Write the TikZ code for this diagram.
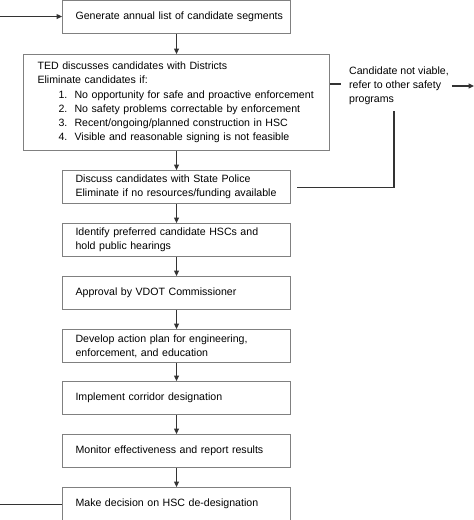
\documentclass[tikz,border=0pt]{standalone}
\usepackage{fontspec}
\setmainfont{Liberation Sans}
\usetikzlibrary{arrows.meta}
\definecolor{boxgray}{HTML}{808080}
\definecolor{linegray}{HTML}{333333}
\begin{document}
\begin{tikzpicture}[x=1pt,y=-1pt,
  txt/.style={font=\fontsize{10.6}{14.2}\selectfont, text=black},
  box/.style={txt, draw=boxgray, line width=1.1pt, anchor=north west,
    text width=220pt, inner xsep=4pt, inner ysep=2pt, minimum height=33pt,
    align=left, execute at begin node={\leftskip=9pt\hyphenpenalty=10000\relax}},
  widebox/.style={box, text width=298pt, execute at begin node={\leftskip=10pt\hyphenpenalty=10000\relax}},
  conn/.style={draw=linegray, line width=1.1pt},
  arr/.style={conn, -{Triangle[length=5.5pt,width=5pt]}}]
\useasboundingbox[fill=white] (0,0) rectangle (474,520);

\node[box] (b1) at (62,-0.5) {\mbox{Generate annual list of candidate segments}};
\node[widebox, minimum height=96pt] (b2) at (23,54) {TED discusses candidates with Districts\\
Eliminate candidates if:\\
\hspace*{21pt}\makebox[16pt][l]{1.}No opportunity for safe and proactive enforcement\\
\hspace*{21pt}\makebox[16pt][l]{2.}No safety problems correctable by enforcement\\
\hspace*{21pt}\makebox[16pt][l]{3.}Recent/ongoing/planned construction in HSC\\
\hspace*{21pt}\makebox[16pt][l]{4.}Visible and reasonable signing is not feasible};
\node[box] (b3) at (62,170) {Discuss candidates with State Police\\\mbox{Eliminate if no resources/funding available}};
\node[box] (b4) at (62,223) {Identify preferred candidate HSCs and\\hold public hearings};
\node[box] (b5) at (62,276) {Approval by VDOT Commissioner};
\node[box] (b6) at (62,329) {Develop action plan for engineering,\\enforcement, and education};
\node[box] (b7) at (62,381) {Implement corridor designation};
\node[box] (b8) at (62,434) {Monitor effectiveness and report results};
\node[box] (b9) at (62,487) {Make decision on HSC de-designation};

\node[txt, anchor=west, align=left, inner xsep=3pt, inner ysep=1pt] (cand) at (346,86)
  {Candidate not viable,\\refer to other safety\\programs};

\draw[arr] (b1) -- (b2);
\draw[arr] (b2) -- (b3);
\draw[arr] (b3) -- (b4);
\draw[arr] (b4) -- (b5);
\draw[arr] (b5) -- (b6);
\draw[arr] (b6) -- (b7);
\draw[arr] (b7) -- (b8);
\draw[arr] (b8) -- (b9);

\coordinate (L) at (-1.5,0);
\draw[arr] (b9.west) -- (b9.west -| L) |- (b1.west);

\coordinate (s) at (341,84);
\draw[conn] (b2.east |- s) -- (s);
\coordinate (out) at (474,86);
\draw[arr] (cand.east) -- (out);
\coordinate (v) at (394,111);
\draw[conn, shorten >=5.5pt] (v) |- (b3.east);
\end{tikzpicture}
\end{document}
